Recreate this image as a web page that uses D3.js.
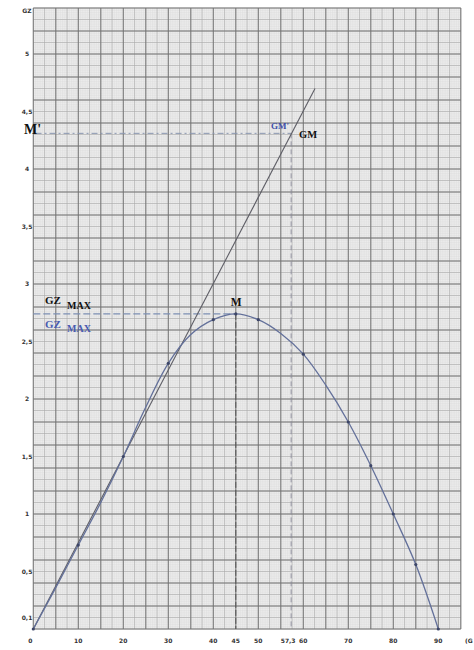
<!DOCTYPE html>
<html>
<head>
<meta charset="utf-8">
<script src="https://cdn.jsdelivr.net/npm/d3@7"></script>
<style>
    html, body { margin: 0; padding: 0; background: #fff; }
    svg { display: block; }
    .tick-label { font-family: "DejaVu Sans", sans-serif; font-size: 6px; font-weight: bold; fill: #333; }
    .note { font-family: "Liberation Serif", serif; font-weight: bold; }
</style>
</head>
<body>
<svg id="chart" width="474" height="650"></svg>
<script>
// heel angle (degrees) and righting arm GZ
const angles = [0, 5, 10, 15, 20, 25, 30, 35, 40, 45, 50, 55, 60, 65, 70, 75, 80, 85, 90];
const gz = [0, 0.36, 0.73, 1.1, 1.5, 1.93, 2.31, 2.56, 2.69, 2.74, 2.69, 2.57, 2.39, 2.12, 1.8, 1.42, 1.0, 0.56, 0];
// points that carry a dot on the paper
const markedAngles = [0, 10, 20, 30, 40, 45, 50, 60, 70, 75, 80, 85, 90];

const yTicks = [0.1, 0.5, 1, 1.5, 2, 2.5, 3, 3.5, 4, 4.5, 5];
const yTickLabels = ["0,1", "0,5", "1", "1,5", "2", "2,5", "3", "3,5", "4", "4,5", "5"];
const xTicks = [0, 10, 20, 30, 40, 45, 50, 57.3, 60, 70, 80, 90];
const xTickLabels = ["0", "10", "20", "30", "40", "45", "50", "57,3", "60", "70", "80", "90"];

// tangent at the origin and the construction lines
const radianAngle = 57.3;
const gmPrime = 4.31;
const tangentEnd = [62.6, 4.7];
const maxAngle = 45;
const gzMax = 2.74;

const svg = d3.select("#chart");
const x = d3.scaleLinear().domain([0, 95]).range([33.3, 460.8]);
const y = d3.scaleLinear().domain([0, 5.4]).range([629, 8]);

// graph paper
const paper = svg.append("g");
paper.append("rect")
    .attr("x", x(0)).attr("y", y(5.4))
    .attr("width", x(95) - x(0)).attr("height", y(0) - y(5.4))
    .attr("fill", "#ececec");

function gridLines(step, color, width) {
    d3.range(0, 95 + 1e-6, step).forEach(v => {
        paper.append("line")
            .attr("x1", x(v)).attr("x2", x(v))
            .attr("y1", y(0)).attr("y2", y(5.4))
            .attr("stroke", color).attr("stroke-width", width);
    });
    // vertical axis: 0.2 units per major square, same as 5 degrees
    const yStep = step / 25;
    d3.range(0, 5.4 + 1e-6, yStep).forEach(v => {
        paper.append("line")
            .attr("x1", x(0)).attr("x2", x(95))
            .attr("y1", y(v)).attr("y2", y(v))
            .attr("stroke", color).attr("stroke-width", width);
    });
}
gridLines(0.5, "#d7d7d7", 0.35);
gridLines(2.5, "#a9a9a9", 0.6);
gridLines(5, "#727272", 0.9);

// tick labels
svg.append("g").selectAll("text")
    .data(yTicks)
    .join("text")
    .attr("class", "tick-label")
    .attr("x", 27)
    .attr("y", d => y(d))
    .attr("dy", "0.35em")
    .attr("text-anchor", "middle")
    .text((d, i) => yTickLabels[i]);
svg.append("text").attr("class", "tick-label")
    .attr("x", 27).attr("y", 11).attr("dy", "0.35em")
    .attr("text-anchor", "middle").text("GZ");

svg.append("g").selectAll("text")
    .data(xTicks)
    .join("text")
    .attr("class", "tick-label")
    .attr("x", d => x(d) - (d === 0 ? 3 : d === radianAngle ? 3 : 0))
    .attr("y", 643)
    .attr("text-anchor", "middle")
    .text((d, i) => xTickLabels[i]);
svg.append("text").attr("class", "tick-label")
    .attr("x", 465).attr("y", 643).text("(G");

// construction lines
svg.append("line")
    .attr("x1", x(0.5)).attr("x2", x(radianAngle))
    .attr("y1", y(gmPrime)).attr("y2", y(gmPrime))
    .attr("stroke", "#8a97b0").attr("stroke-width", 1)
    .attr("stroke-dasharray", "6,3,2,3");
svg.append("line")
    .attr("x1", x(radianAngle)).attr("x2", x(radianAngle))
    .attr("y1", y(gmPrime)).attr("y2", y(0))
    .attr("stroke", "#8a8a9a").attr("stroke-width", 0.9)
    .attr("stroke-dasharray", "5,3");
svg.append("line")
    .attr("x1", x(0)).attr("x2", x(maxAngle))
    .attr("y1", y(gzMax)).attr("y2", y(gzMax))
    .attr("stroke", "#7d90b4").attr("stroke-width", 1.4)
    .attr("stroke-dasharray", "7,3");
svg.append("line")
    .attr("x1", x(maxAngle)).attr("x2", x(maxAngle))
    .attr("y1", y(gzMax)).attr("y2", y(0))
    .attr("stroke", "#555").attr("stroke-width", 1)
    .attr("stroke-dasharray", "6,2");

// tangent at the origin
svg.append("line")
    .attr("x1", x(0)).attr("y1", y(0))
    .attr("x2", x(tangentEnd[0])).attr("y2", y(tangentEnd[1]))
    .attr("stroke", "#5e5e66").attr("stroke-width", 1.1);

// GZ curve
const points = angles.map((a, i) => [a, gz[i]]);
const line = d3.line()
    .x(d => x(d[0]))
    .y(d => y(d[1]))
    .curve(d3.curveCatmullRom.alpha(0.5));
svg.append("path")
    .datum(points)
    .attr("d", line)
    .attr("fill", "none")
    .attr("stroke", "#63709a")
    .attr("stroke-width", 1.3);

svg.append("g").selectAll("circle")
    .data(points.filter(d => markedAngles.includes(d[0])))
    .join("circle")
    .attr("cx", d => x(d[0]))
    .attr("cy", d => y(d[1]))
    .attr("r", 1.6)
    .attr("fill", "#3d4668");

// annotations
function note(tx, ty, size, color, txt) {
    return svg.append("text").attr("class", "note")
        .attr("x", tx).attr("y", ty)
        .attr("font-size", size).attr("fill", color)
        .text(txt);
}
note(24, 134, 14, "#111", "M'");
note(271, 129, 9, "#3f4fa8", "GM'");
note(299, 138, 10.5, "#111", "GM");
note(45, 304, 11, "#111", "GZ");
note(67, 309, 10, "#111", "MAX");
note(45, 328, 11, "#4a5bb0", "GZ");
note(67, 332, 10, "#4a5bb0", "MAX");
note(x(maxAngle) - 5, 306, 11.5, "#111", "M");
</script>
</body>
</html>
